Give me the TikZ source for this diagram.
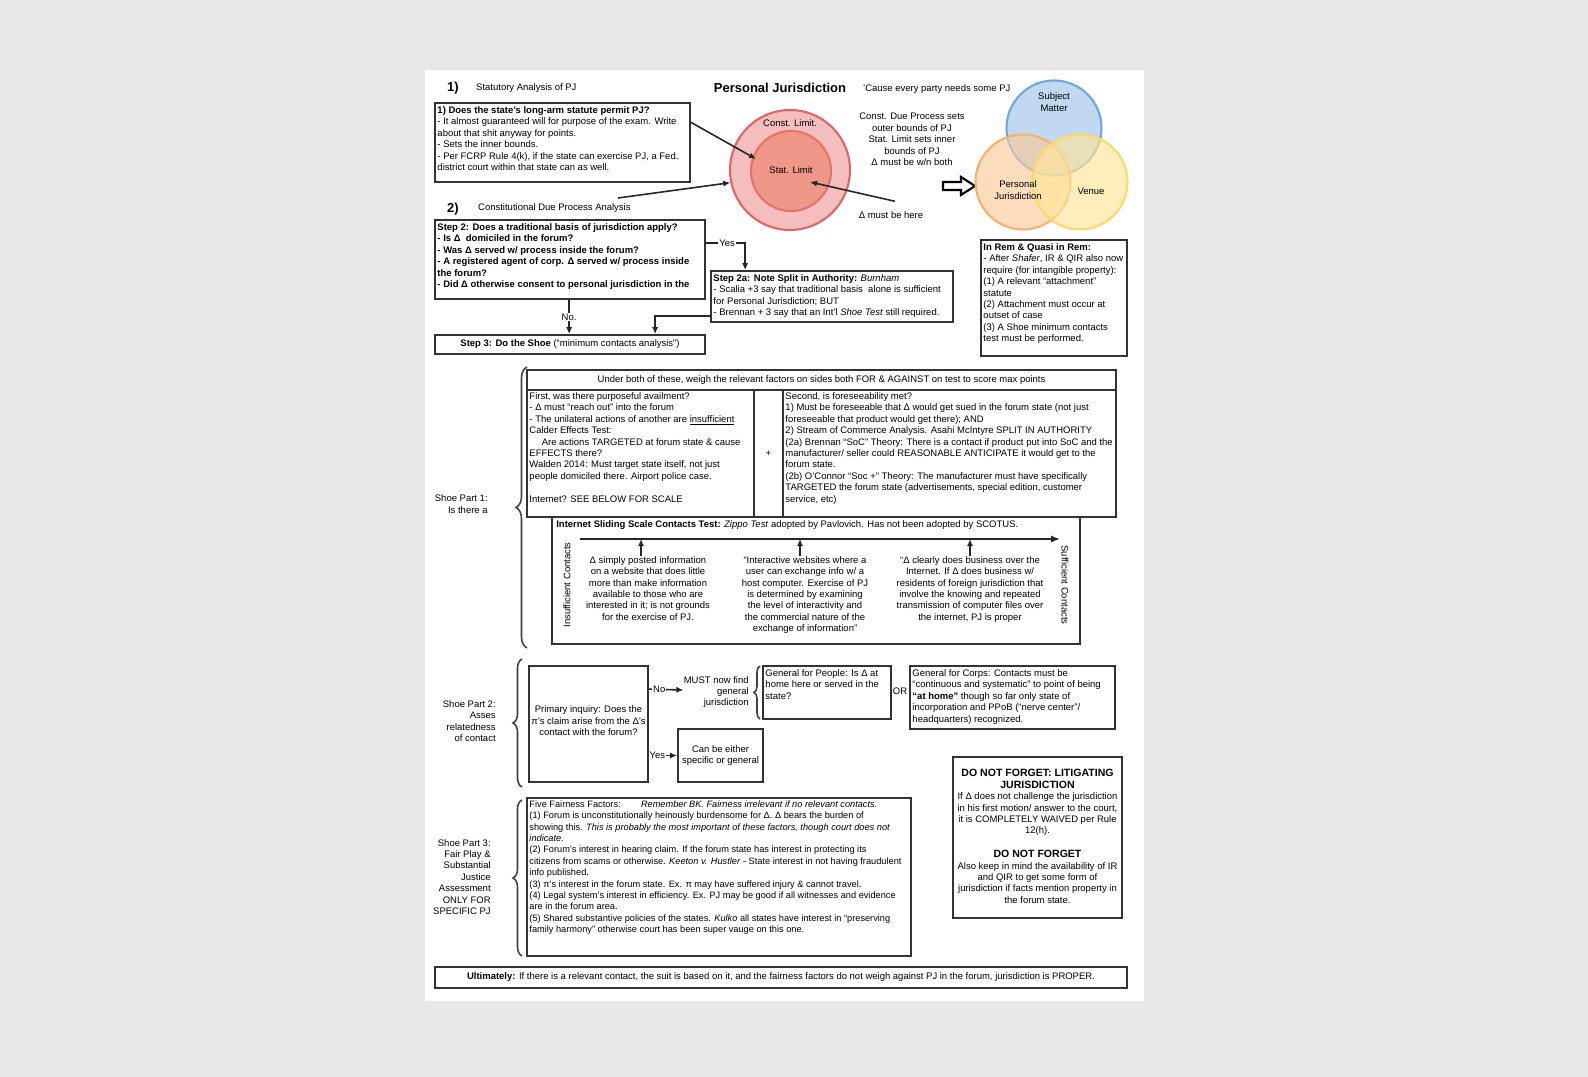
\documentclass[tikz,border=0pt]{standalone}
\usepackage{fontspec}
\setmainfont{Liberation Sans}
\usetikzlibrary{arrows.meta,positioning,fit,calc,decorations.pathreplacing}
\definecolor{sheetgray}{HTML}{E8E8E8}
\definecolor{limitpink}{HTML}{F5BEBE}
\definecolor{limitred}{HTML}{E06666}
\definecolor{statsalmon}{HTML}{EF9887}
\definecolor{statred}{HTML}{E57368}
\definecolor{smblue}{HTML}{9FC5E8}
\definecolor{smblueline}{HTML}{6FA8DC}
\definecolor{pjorange}{HTML}{F9CB9C}
\definecolor{pjorangeline}{HTML}{F6B26B}
\definecolor{venueyellow}{HTML}{FFE599}
\definecolor{venueline}{HTML}{FFD966}
\newcommand{\ft}{\fontsize{5.4}{6.5}\selectfont}
\newcommand{\ftsmall}{\fontsize{5.25}{6.5}\selectfont}
\newcommand{\fthead}{\fontsize{7.4}{8.5}\selectfont\bfseries}
\newcommand{\ftwarn}{\fontsize{6}{7}\selectfont\bfseries}
\tikzset{
  framebox/.style={draw=black!80, line width=1pt, inner sep=0pt, fit={#1}},
  notes/.style={anchor=north west, align=left, inner sep=0pt, font=\ft},
  centred/.style={align=center, inner sep=0pt, font=\ft},
  arrow/.style={-{Latex[length=4pt,width=3.5pt]}, line width=0.9pt, draw=black!85},
  curly/.style={decorate, decoration={brace, amplitude=#1}, line width=0.9pt, draw=black!75},
  limit/.style={circle, line width=1.2pt, inner sep=0pt},
  venn/.style={circle, minimum size=1.9cm, line width=1.2pt, fill opacity=0.65, inner sep=0pt}
}
\begin{document}
\begin{tikzpicture}[x=0.02cm, y=-0.02cm]
\fill[sheetgray] (0,0) rectangle (1588,1077);
\fill[white] (425,70) rectangle (1144,1001);
\useasboundingbox (0,0) rectangle (1588,1077);

% headings
\node[font=\fthead] (num1) at (453,88) {1)};
\node[font=\ft, anchor=west] (statlbl) at (470,88) {Statutory Analysis of PJ};
\node[font=\fthead] (title) at (780,88) {Personal Jurisdiction};
\node[font=\ft, anchor=west] (cause) at (857,89) {’Cause every party needs some PJ};
\node[font=\fthead] (num2) at (453,209) {2)};
\node[font=\ft, anchor=west] (cdplbl) at (472,208) {Constitutional Due Process Analysis};

% long-arm statute
\node[framebox={(435,103) (690,182)}] (longarm) {};
\node[notes] (longarmtxt) at ([shift={(3,4)}]longarm.north west) {\textbf{1) Does the state’s long-arm statute permit PJ?}\\
- It almost guaranteed will for purpose of the exam. Write\\
about that shit anyway for points.\\
- Sets the inner bounds.\\
- Per FCRP Rule 4(k), if the state can exercise PJ, a Fed.\\
district court within that state can as well.};

% limits
\node[limit, draw=limitred, fill=limitpink, minimum size=2.4cm] (constlim) at (790,170) {};
\node[limit, draw=statred, fill=statsalmon, minimum size=1.6cm] (statlim) at (791,171) {};
\node[font=\ft] (constlbl) at (790,123) {Const. Limit.};
\node[font=\ft] (statlimlbl) at (791,170) {Stat. Limit};
\node[centred, anchor=north] (bounds) at (912,113) {Const. Due Process sets\\ outer bounds of PJ\\ Stat. Limit sets inner\\ bounds of PJ\\ Δ must be w/n both};
\node[font=\ft] (mustbe) at (891,215) {Δ must be here};
\coordinate (statin1) at (756,159);
\coordinate (statin2) at (810,182);
\coordinate (cdpstart) at (618,198);
\draw[arrow] ($(longarm.north east)!0.25!(longarm.south east)$) -- (statin1);
\draw[arrow] (cdpstart) -- (constlim.192);
\draw[arrow] ([shift={(4,-4)}]mustbe.north) -- (statin2);

% venn
\draw[line width=1.2pt, fill=white] (943,182) -- (961,182) -- (961,177) -- (975,186) -- (961,195) -- (961,190) -- (943,190) -- cycle;
\node[venn, draw=smblueline, fill=smblue] (subject) at (1054,128) {};
\node[venn, draw=pjorangeline, fill=pjorange] (personal) at (1023,182) {};
\node[venn, draw=venueline, fill=venueyellow] (venue) at (1080,182) {};
\node[centred] (subjectlbl) at (1054,102) {Subject\\ Matter};
\node[centred] (personallbl) at (1018,190) {Personal\\ Jurisdiction};
\node[centred] (venuelbl) at (1091,191) {Venue};

% step 2
\node[framebox={(435,220) (705,299)}] (trad) {};
\node[notes, font=\ft\bfseries] (tradtxt) at ([shift={(3,4)}]trad.north west) {Step 2: Does a traditional basis of jurisdiction apply?\\
- Is Δ\ \ domiciled in the forum?\\
- Was Δ served w/ process inside the forum?\\
- A registered agent of corp. Δ served w/ process inside\\
the forum?\\
- Did Δ otherwise consent to personal jurisdiction in the};

\node[framebox={(711,271) (953,322)}] (split) {};
\node[notes] (splittxt) at ([shift={(3,4)}]split.north west) {\textbf{Step 2a: Note Split in Authority:} \textit{Burnham}\\
- Scalia +3 say that traditional basis\ \ alone is sufficient\\
for Personal Jurisdiction; BUT\\
- Brennan + 3 say that an Int’l \textit{Shoe Test} still required.};

\node[framebox={(435,335) (705,354)}] (shoe) {};
\node[centred] (shoetxt) at (shoe.center) {\textbf{Step 3: Do the Shoe} (“minimum contacts analysis”)};

\draw[arrow] ($(trad.south west)+(135,0)$) -- ($(shoe.north west)+(135,0)$) node[midway, fill=white, font=\ft, inner sep=0.5pt] {No.};
\draw[arrow] ($(trad.north east)+(0,24)$) -| ($(split.north west)+(35,0)$) node[pos=0.27, fill=white, font=\ft, inner sep=0.5pt] {Yes};
\draw[arrow] ($(split.south west)+(0,-7)$) -| ($(shoe.north west)+(221,0)$);

% in rem
\node[framebox={(981,240) (1127,356)}] (inrem) {};
\node[notes] (inremtxt) at ([shift={(3,4)}]inrem.north west) {\textbf{In Rem \& Quasi in Rem:}\\
- After \textit{Shafer}, IR \& QIR also now\\
require (for intangible property):\\
(1) A relevant “attachment”\\
statute\\
(2) Attachment must occur at\\
outset of case\\
(3) A Shoe minimum contacts\\
test must be performed.};

% shoe part 1
\node[framebox={(527,370) (1116,390)}] (weigh) {};
\node[centred] (weightxt) at (weigh.center) {Under both of these, weigh the relevant factors on sides both FOR \& AGAINST on test to score max points};
\node[framebox={(527,390) (754,517)}] (avail) {};
\node[framebox={(754,390) (783,517)}] (plusbox) {};
\node[framebox={(783,390) (1116,517)}] (foresee) {};
\node[font=\ft] (plus) at (plusbox.center) {+};
\node[notes] (availtxt) at ([shift={(3,3)}]avail.north west) {First, was there purposeful availment?\\
- Δ must “reach out” into the forum\\
- The unilateral actions of another are \underline{insufficient}\\
Calder Effects Test:\\
\hspace*{1.3em}Are actions TARGETED at forum state \& cause\\
EFFECTS there?\\
Walden 2014: Must target state itself, not just\\
people domiciled there. Airport police case.\\[6.5pt]
Internet? SEE BELOW FOR SCALE};
\node[notes] (foreseetxt) at ([shift={(3,3)}]foresee.north west) {Second, is foreseeability met?\\
1) Must be foreseeable that Δ would get sued in the forum state (not just\\
foreseeable that product would get there); AND\\
2) Stream of Commerce Analysis. Asahi McIntyre SPLIT IN AUTHORITY\\
(2a) Brennan “SoC” Theory: There is a contact if product put into SoC and the\\
manufacturer/ seller could REASONABLE ANTICIPATE it would get to the\\
forum state.\\
(2b) O’Connor “Soc +” Theory: The manufacturer must have specifically\\
TARGETED the forum state (advertisements, special edition, customer\\
service, etc)};

% internet sliding scale
\node[framebox={(552,517) (1080,644)}] (zippo) {};
\node[font=\ft, anchor=west, inner sep=0pt] (zippotitle) at (556,525) {\textbf{Internet Sliding Scale Contacts Test:} \textit{Zippo Test} adopted by Pavlovich. Has not been adopted by SCOTUS.};
\coordinate (scaleL) at (580,539);
\coordinate (scaleR) at (1060,539);
\draw[-{Latex[length=5pt,width=4pt]}, line width=1.3pt, draw=black!85] (scaleL) -- (scaleR);
\node[centred, anchor=north] (passive) at (648,556) {Δ simply posted information\\ on a website that does little\\ more than make information\\ available to those who are\\ interested in it; is not grounds\\ for the exercise of PJ.};
\node[centred, anchor=north] (interactive) at (805,556) {“Interactive websites where a\\ user can exchange info w/ a\\ host computer. Exercise of PJ\\ is determined by examining\\ the level of interactivity and\\ the commercial nature of the\\ exchange of information”};
\node[centred, anchor=north] (business) at (970,556) {“Δ clearly does business over the\\ Internet. If Δ does business w/\\ residents of foreign jurisdiction that\\ involve the knowing and repeated\\ transmission of computer files over\\ the internet, PJ is proper};
\draw[arrow] ([shift={(-7,0)}]passive.north) -- ([shift={(-7,0)}]passive.north |- scaleL);
\draw[arrow] ([shift={(-5,0)}]interactive.north) -- ([shift={(-5,0)}]interactive.north |- scaleL);
\draw[arrow] (business.north) -- (business.north |- scaleL);
\node[font=\ft, rotate=90] (insuff) at (567,585) {Insufficient Contacts};
\node[font=\ft, rotate=-90] (suff) at (1065,585) {Sufficient Contacts};

\draw[curly=0.22cm] (527,648) -- (527,367);
\node[centred, align=right, anchor=east] (part1) at (488,504) {Shoe Part 1:\\ Is there a};

% shoe part 2
\draw[curly=0.18cm] (522,787) -- (522,659);
\node[centred, align=right, anchor=east] (part2) at (496,721) {Shoe Part 2:\\ Asses\\ relatedness\\ of contact};
\node[framebox={(529,666) (648,782)}] (primary) {};
\node[centred] (primarytxt) at ([shift={(0,-3)}]primary.center) {Primary inquiry: Does the\\ π’s claim arise from the Δ’s\\ contact with the forum?};
\node[centred, align=right, anchor=east] (mustfind) at (749,692) {MUST now find\\ general\\ jurisdiction};
\draw[arrow] ($(primary.north east)+(0,24)$) -- (mustfind.west |- 0,690) node[pos=0.3, fill=white, font=\ft, inner sep=0.5pt] {No};
\draw[curly=0.12cm] (760,719) -- (760,666);
\node[framebox={(763,666) (891,719)}] (people) {};
\node[notes] (peopletxt) at ([shift={(3,4)}]people.north west) {General for People: Is Δ at\\ home here or served in the\\ state?};
\node[font=\ft] (orlbl) at (900,691) {OR};
\node[framebox={(910,666) (1115,729)}] (corps) {};
\node[notes] (corpstxt) at ([shift={(3,4)}]corps.north west) {General for Corps: Contacts must be\\
“continuous and systematic” to point of being\\
\textbf{“at home”} though so far only state of\\
incorporation and PPoB (“nerve center”/\\
headquarters) recognized.};
\node[framebox={(678,729) (763,782)}] (either) {};
\node[centred] (eithertxt) at (either.center) {Can be either\\ specific or general};
\draw[arrow] (primary.east |- either.west) -- (either.west) node[pos=0.3, fill=white, font=\ft, inner sep=0.5pt] {Yes};

% do not forget
\node[framebox={(953,757) (1122,918)}] (forget) {};
\node[centred, anchor=north] (forgettxt) at ([shift={(0,13)}]forget.north) {\ftwarn DO NOT FORGET: LITIGATING\\ \ftwarn JURISDICTION\\
If Δ does not challenge the jurisdiction\\ in his first motion/ answer to the court,\\ it is COMPLETELY WAIVED per Rule\\ 12(h).\\[7pt]
\ftwarn DO NOT FORGET\\
Also keep in mind the availability of IR\\ and QIR to get some form of\\ jurisdiction if facts mention property in\\ the forum state.};

% shoe part 3
\draw[curly=0.18cm] (522,956) -- (522,800);
\node[centred, align=right, anchor=east] (part3) at (491,877) {Shoe Part 3:\\ Fair Play \&\\ Substantial\\ Justice\\ Assessment\\ ONLY FOR\\ SPECIFIC PJ};
\node[framebox={(527,798) (911,956)}] (fairness) {};
\node[notes, font=\ftsmall] (fairnesstxt) at ([shift={(3,3)}]fairness.north west) {Five Fairness Factors:\hspace*{2.2em}\textit{Remember BK. Fairness irrelevant if no relevant contacts.}\\
(1) Forum is unconstitutionally heinously burdensome for Δ. Δ bears the burden of\\
showing this. \textit{This is probably the most important of these factors, though court does not}\\
\textit{indicate.}\\
(2) Forum’s interest in hearing claim. If the forum state has interest in protecting its\\
citizens from scams or otherwise. \textit{Keeton v. Hustler} - State interest in not having fraudulent\\
info published.\\
(3) π’s interest in the forum state. Ex. π may have suffered injury \& cannot travel.\\
(4) Legal system’s interest in efficiency. Ex. PJ may be good if all witnesses and evidence\\
are in the forum area.\\
(5) Shared substantive policies of the states. \textit{Kulko} all states have interest in “preserving\\
family harmony” otherwise court has been super vauge on this one.};

% conclusion
\node[framebox={(435,967) (1127,988)}] (ultimately) {};
\node[centred] (ultimatelytxt) at (ultimately.center) {\textbf{Ultimately:} If there is a relevant contact, the suit is based on it, and the fairness factors do not weigh against PJ in the forum, jurisdiction is PROPER.};
\end{tikzpicture}
\end{document}
